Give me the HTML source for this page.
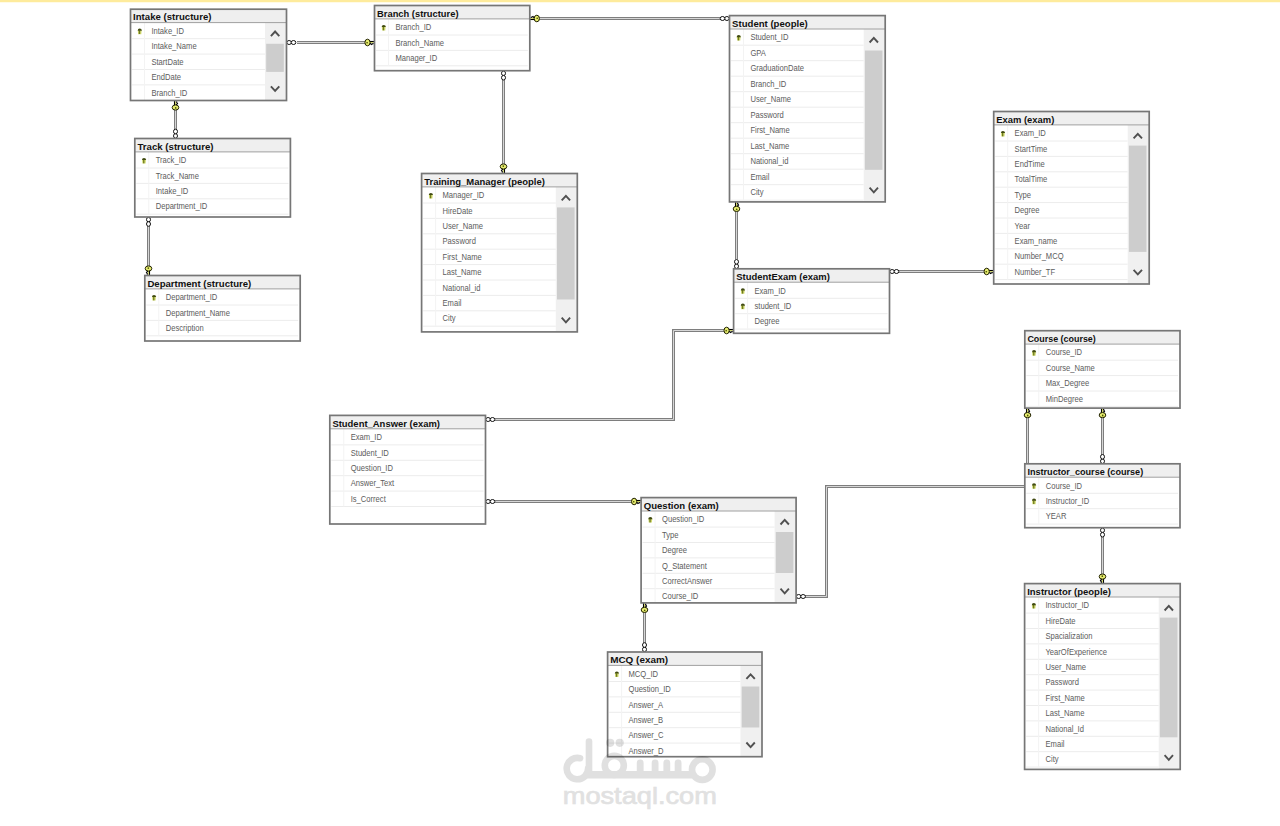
<!DOCTYPE html><html><head><meta charset="utf-8"><style>
html,body{margin:0;padding:0;background:#fff;width:1280px;height:826px;overflow:hidden}
svg{display:block}
text{font-family:"Liberation Sans",sans-serif}
.r{font-size:8.6px;fill:#5c5c5c}
.h{font-size:9.6px;font-weight:bold;fill:#111}
.wm{font-size:24.5px;fill:#e1e1e1;stroke:#e1e1e1;stroke-width:0.7px}
</style></head><body>
<svg width="1280" height="826" viewBox="0 0 1280 826">
<rect x="0" y="0" width="1280" height="826" fill="#ffffff"/>
<rect x="0" y="0" width="1280" height="2" fill="#feeb9c"/><rect x="0" y="2" width="1280" height="1" fill="#fffbe6"/>
<path d="M297,42.5 L365,42.5" fill="none" stroke="#7e7e7e" stroke-width="3"/><path d="M297,42.5 L365,42.5" fill="none" stroke="#d6d6d6" stroke-width="1"/><g transform="translate(286.5,42.5) rotate(0)"><ellipse cx="2.6" cy="0" rx="2.3" ry="2.0" fill="#ffffff" stroke="#111111" stroke-width="1"/><ellipse cx="7.0" cy="0" rx="2.3" ry="2.0" fill="#ffffff" stroke="#111111" stroke-width="1"/></g><g transform="translate(374.5,42.5) rotate(0)"><path d="M-5,-0.9 L-0.2,-0.9" stroke="#000" stroke-width="1.3" fill="none"/><path d="M-4.4,0.5 L-3.2,2 L-2,1.3 L-0.8,1" stroke="#000" stroke-width="1.2" fill="none"/><path d="M-5,-0.25 L-1,-0.25 L-1,0.5 L-5,0.5 Z" fill="#d8e050"/><ellipse cx="-7.0" cy="0" rx="2.6" ry="3.3" fill="#e8ee70" stroke="#1e1e00" stroke-width="1"/><ellipse cx="-7.4" cy="0.2" rx="0.9" ry="0.8" fill="#4a5000"/></g>
<path d="M539,18.5 L720,18.5" fill="none" stroke="#7e7e7e" stroke-width="3"/><path d="M539,18.5 L720,18.5" fill="none" stroke="#d6d6d6" stroke-width="1"/><g transform="translate(529.8,18.5) rotate(180)"><path d="M-5,-0.9 L-0.2,-0.9" stroke="#000" stroke-width="1.3" fill="none"/><path d="M-4.4,0.5 L-3.2,2 L-2,1.3 L-0.8,1" stroke="#000" stroke-width="1.2" fill="none"/><path d="M-5,-0.25 L-1,-0.25 L-1,0.5 L-5,0.5 Z" fill="#d8e050"/><ellipse cx="-7.0" cy="0" rx="2.6" ry="3.3" fill="#e8ee70" stroke="#1e1e00" stroke-width="1"/><ellipse cx="-7.4" cy="0.2" rx="0.9" ry="0.8" fill="#4a5000"/></g><g transform="translate(729.5,18.5) rotate(180)"><ellipse cx="2.6" cy="0" rx="2.3" ry="2.0" fill="#ffffff" stroke="#111111" stroke-width="1"/><ellipse cx="7.0" cy="0" rx="2.3" ry="2.0" fill="#ffffff" stroke="#111111" stroke-width="1"/></g>
<path d="M503.5,80 L503.5,164" fill="none" stroke="#7e7e7e" stroke-width="3"/><path d="M503.5,80 L503.5,164" fill="none" stroke="#d6d6d6" stroke-width="1"/><g transform="translate(503.5,70.7) rotate(90)"><ellipse cx="2.6" cy="0" rx="2.3" ry="2.0" fill="#ffffff" stroke="#111111" stroke-width="1"/><ellipse cx="7.0" cy="0" rx="2.3" ry="2.0" fill="#ffffff" stroke="#111111" stroke-width="1"/></g><g transform="translate(503.5,173.5) rotate(90)"><path d="M-5,-0.9 L-0.2,-0.9" stroke="#000" stroke-width="1.3" fill="none"/><path d="M-4.4,0.5 L-3.2,2 L-2,1.3 L-0.8,1" stroke="#000" stroke-width="1.2" fill="none"/><path d="M-5,-0.25 L-1,-0.25 L-1,0.5 L-5,0.5 Z" fill="#d8e050"/><ellipse cx="-7.0" cy="0" rx="2.6" ry="3.3" fill="#e8ee70" stroke="#1e1e00" stroke-width="1"/><ellipse cx="-7.4" cy="0.2" rx="0.9" ry="0.8" fill="#4a5000"/></g>
<path d="M175.5,110 L175.5,129" fill="none" stroke="#7e7e7e" stroke-width="3"/><path d="M175.5,110 L175.5,129" fill="none" stroke="#d6d6d6" stroke-width="1"/><g transform="translate(175.5,100.5) rotate(270)"><path d="M-5,-0.9 L-0.2,-0.9" stroke="#000" stroke-width="1.3" fill="none"/><path d="M-4.4,0.5 L-3.2,2 L-2,1.3 L-0.8,1" stroke="#000" stroke-width="1.2" fill="none"/><path d="M-5,-0.25 L-1,-0.25 L-1,0.5 L-5,0.5 Z" fill="#d8e050"/><ellipse cx="-7.0" cy="0" rx="2.6" ry="3.3" fill="#e8ee70" stroke="#1e1e00" stroke-width="1"/><ellipse cx="-7.4" cy="0.2" rx="0.9" ry="0.8" fill="#4a5000"/></g><g transform="translate(175.5,138.5) rotate(270)"><ellipse cx="2.6" cy="0" rx="2.3" ry="2.0" fill="#ffffff" stroke="#111111" stroke-width="1"/><ellipse cx="7.0" cy="0" rx="2.3" ry="2.0" fill="#ffffff" stroke="#111111" stroke-width="1"/></g>
<path d="M148.5,226 L148.5,266" fill="none" stroke="#7e7e7e" stroke-width="3"/><path d="M148.5,226 L148.5,266" fill="none" stroke="#d6d6d6" stroke-width="1"/><g transform="translate(148.5,217) rotate(90)"><ellipse cx="2.6" cy="0" rx="2.3" ry="2.0" fill="#ffffff" stroke="#111111" stroke-width="1"/><ellipse cx="7.0" cy="0" rx="2.3" ry="2.0" fill="#ffffff" stroke="#111111" stroke-width="1"/></g><g transform="translate(148.5,275.5) rotate(90)"><path d="M-5,-0.9 L-0.2,-0.9" stroke="#000" stroke-width="1.3" fill="none"/><path d="M-4.4,0.5 L-3.2,2 L-2,1.3 L-0.8,1" stroke="#000" stroke-width="1.2" fill="none"/><path d="M-5,-0.25 L-1,-0.25 L-1,0.5 L-5,0.5 Z" fill="#d8e050"/><ellipse cx="-7.0" cy="0" rx="2.6" ry="3.3" fill="#e8ee70" stroke="#1e1e00" stroke-width="1"/><ellipse cx="-7.4" cy="0.2" rx="0.9" ry="0.8" fill="#4a5000"/></g>
<path d="M736.5,211 L736.5,259" fill="none" stroke="#7e7e7e" stroke-width="3"/><path d="M736.5,211 L736.5,259" fill="none" stroke="#d6d6d6" stroke-width="1"/><g transform="translate(736.5,201.9) rotate(270)"><path d="M-5,-0.9 L-0.2,-0.9" stroke="#000" stroke-width="1.3" fill="none"/><path d="M-4.4,0.5 L-3.2,2 L-2,1.3 L-0.8,1" stroke="#000" stroke-width="1.2" fill="none"/><path d="M-5,-0.25 L-1,-0.25 L-1,0.5 L-5,0.5 Z" fill="#d8e050"/><ellipse cx="-7.0" cy="0" rx="2.6" ry="3.3" fill="#e8ee70" stroke="#1e1e00" stroke-width="1"/><ellipse cx="-7.4" cy="0.2" rx="0.9" ry="0.8" fill="#4a5000"/></g><g transform="translate(736.5,268.8) rotate(270)"><ellipse cx="2.6" cy="0" rx="2.3" ry="2.0" fill="#ffffff" stroke="#111111" stroke-width="1"/><ellipse cx="7.0" cy="0" rx="2.3" ry="2.0" fill="#ffffff" stroke="#111111" stroke-width="1"/></g>
<path d="M898,271.5 L984,271.5" fill="none" stroke="#7e7e7e" stroke-width="3"/><path d="M898,271.5 L984,271.5" fill="none" stroke="#d6d6d6" stroke-width="1"/><g transform="translate(889.5,271.5) rotate(0)"><ellipse cx="2.6" cy="0" rx="2.3" ry="2.0" fill="#ffffff" stroke="#111111" stroke-width="1"/><ellipse cx="7.0" cy="0" rx="2.3" ry="2.0" fill="#ffffff" stroke="#111111" stroke-width="1"/></g><g transform="translate(993.7,271.5) rotate(0)"><path d="M-5,-0.9 L-0.2,-0.9" stroke="#000" stroke-width="1.3" fill="none"/><path d="M-4.4,0.5 L-3.2,2 L-2,1.3 L-0.8,1" stroke="#000" stroke-width="1.2" fill="none"/><path d="M-5,-0.25 L-1,-0.25 L-1,0.5 L-5,0.5 Z" fill="#d8e050"/><ellipse cx="-7.0" cy="0" rx="2.6" ry="3.3" fill="#e8ee70" stroke="#1e1e00" stroke-width="1"/><ellipse cx="-7.4" cy="0.2" rx="0.9" ry="0.8" fill="#4a5000"/></g>
<path d="M724,330.5 L673.5,330.5 L673.5,419.5 L495,419.5" fill="none" stroke="#7e7e7e" stroke-width="3"/><path d="M724,330.5 L673.5,330.5 L673.5,419.5 L495,419.5" fill="none" stroke="#d6d6d6" stroke-width="1"/><g transform="translate(733.6,330.5) rotate(0)"><path d="M-5,-0.9 L-0.2,-0.9" stroke="#000" stroke-width="1.3" fill="none"/><path d="M-4.4,0.5 L-3.2,2 L-2,1.3 L-0.8,1" stroke="#000" stroke-width="1.2" fill="none"/><path d="M-5,-0.25 L-1,-0.25 L-1,0.5 L-5,0.5 Z" fill="#d8e050"/><ellipse cx="-7.0" cy="0" rx="2.6" ry="3.3" fill="#e8ee70" stroke="#1e1e00" stroke-width="1"/><ellipse cx="-7.4" cy="0.2" rx="0.9" ry="0.8" fill="#4a5000"/></g><g transform="translate(485.5,419.5) rotate(0)"><ellipse cx="2.6" cy="0" rx="2.3" ry="2.0" fill="#ffffff" stroke="#111111" stroke-width="1"/><ellipse cx="7.0" cy="0" rx="2.3" ry="2.0" fill="#ffffff" stroke="#111111" stroke-width="1"/></g>
<path d="M495,501.5 L632,501.5" fill="none" stroke="#7e7e7e" stroke-width="3"/><path d="M495,501.5 L632,501.5" fill="none" stroke="#d6d6d6" stroke-width="1"/><g transform="translate(485.5,501.5) rotate(0)"><ellipse cx="2.6" cy="0" rx="2.3" ry="2.0" fill="#ffffff" stroke="#111111" stroke-width="1"/><ellipse cx="7.0" cy="0" rx="2.3" ry="2.0" fill="#ffffff" stroke="#111111" stroke-width="1"/></g><g transform="translate(641.1,501.5) rotate(0)"><path d="M-5,-0.9 L-0.2,-0.9" stroke="#000" stroke-width="1.3" fill="none"/><path d="M-4.4,0.5 L-3.2,2 L-2,1.3 L-0.8,1" stroke="#000" stroke-width="1.2" fill="none"/><path d="M-5,-0.25 L-1,-0.25 L-1,0.5 L-5,0.5 Z" fill="#d8e050"/><ellipse cx="-7.0" cy="0" rx="2.6" ry="3.3" fill="#e8ee70" stroke="#1e1e00" stroke-width="1"/><ellipse cx="-7.4" cy="0.2" rx="0.9" ry="0.8" fill="#4a5000"/></g>
<path d="M805,596.5 L826.5,596.5 L826.5,486.5 L1026,486.5" fill="none" stroke="#7e7e7e" stroke-width="3"/><path d="M805,596.5 L826.5,596.5 L826.5,486.5 L1026,486.5" fill="none" stroke="#d6d6d6" stroke-width="1"/><path d="M1027.5,418 L1027.5,464" fill="none" stroke="#7e7e7e" stroke-width="3"/><path d="M1027.5,418 L1027.5,464" fill="none" stroke="#d6d6d6" stroke-width="1"/><g transform="translate(796.1,596.5) rotate(0)"><ellipse cx="2.6" cy="0" rx="2.3" ry="2.0" fill="#ffffff" stroke="#111111" stroke-width="1"/><ellipse cx="7.0" cy="0" rx="2.3" ry="2.0" fill="#ffffff" stroke="#111111" stroke-width="1"/></g><g transform="translate(1027.5,408.1) rotate(270)"><path d="M-5,-0.9 L-0.2,-0.9" stroke="#000" stroke-width="1.3" fill="none"/><path d="M-4.4,0.5 L-3.2,2 L-2,1.3 L-0.8,1" stroke="#000" stroke-width="1.2" fill="none"/><path d="M-5,-0.25 L-1,-0.25 L-1,0.5 L-5,0.5 Z" fill="#d8e050"/><ellipse cx="-7.0" cy="0" rx="2.6" ry="3.3" fill="#e8ee70" stroke="#1e1e00" stroke-width="1"/><ellipse cx="-7.4" cy="0.2" rx="0.9" ry="0.8" fill="#4a5000"/></g>
<path d="M1102.5,417 L1102.5,455" fill="none" stroke="#7e7e7e" stroke-width="3"/><path d="M1102.5,417 L1102.5,455" fill="none" stroke="#d6d6d6" stroke-width="1"/><g transform="translate(1102.5,408.1) rotate(270)"><path d="M-5,-0.9 L-0.2,-0.9" stroke="#000" stroke-width="1.3" fill="none"/><path d="M-4.4,0.5 L-3.2,2 L-2,1.3 L-0.8,1" stroke="#000" stroke-width="1.2" fill="none"/><path d="M-5,-0.25 L-1,-0.25 L-1,0.5 L-5,0.5 Z" fill="#d8e050"/><ellipse cx="-7.0" cy="0" rx="2.6" ry="3.3" fill="#e8ee70" stroke="#1e1e00" stroke-width="1"/><ellipse cx="-7.4" cy="0.2" rx="0.9" ry="0.8" fill="#4a5000"/></g><g transform="translate(1102.5,463.8) rotate(270)"><ellipse cx="2.6" cy="0" rx="2.3" ry="2.0" fill="#ffffff" stroke="#111111" stroke-width="1"/><ellipse cx="7.0" cy="0" rx="2.3" ry="2.0" fill="#ffffff" stroke="#111111" stroke-width="1"/></g>
<path d="M1102.5,537 L1102.5,574" fill="none" stroke="#7e7e7e" stroke-width="3"/><path d="M1102.5,537 L1102.5,574" fill="none" stroke="#d6d6d6" stroke-width="1"/><g transform="translate(1102.5,527.7) rotate(90)"><ellipse cx="2.6" cy="0" rx="2.3" ry="2.0" fill="#ffffff" stroke="#111111" stroke-width="1"/><ellipse cx="7.0" cy="0" rx="2.3" ry="2.0" fill="#ffffff" stroke="#111111" stroke-width="1"/></g><g transform="translate(1102.5,583.6) rotate(90)"><path d="M-5,-0.9 L-0.2,-0.9" stroke="#000" stroke-width="1.3" fill="none"/><path d="M-4.4,0.5 L-3.2,2 L-2,1.3 L-0.8,1" stroke="#000" stroke-width="1.2" fill="none"/><path d="M-5,-0.25 L-1,-0.25 L-1,0.5 L-5,0.5 Z" fill="#d8e050"/><ellipse cx="-7.0" cy="0" rx="2.6" ry="3.3" fill="#e8ee70" stroke="#1e1e00" stroke-width="1"/><ellipse cx="-7.4" cy="0.2" rx="0.9" ry="0.8" fill="#4a5000"/></g>
<path d="M644.5,612 L644.5,643" fill="none" stroke="#7e7e7e" stroke-width="3"/><path d="M644.5,612 L644.5,643" fill="none" stroke="#d6d6d6" stroke-width="1"/><g transform="translate(644.5,602.9) rotate(270)"><path d="M-5,-0.9 L-0.2,-0.9" stroke="#000" stroke-width="1.3" fill="none"/><path d="M-4.4,0.5 L-3.2,2 L-2,1.3 L-0.8,1" stroke="#000" stroke-width="1.2" fill="none"/><path d="M-5,-0.25 L-1,-0.25 L-1,0.5 L-5,0.5 Z" fill="#d8e050"/><ellipse cx="-7.0" cy="0" rx="2.6" ry="3.3" fill="#e8ee70" stroke="#1e1e00" stroke-width="1"/><ellipse cx="-7.4" cy="0.2" rx="0.9" ry="0.8" fill="#4a5000"/></g><g transform="translate(644.5,652) rotate(270)"><ellipse cx="2.6" cy="0" rx="2.3" ry="2.0" fill="#ffffff" stroke="#111111" stroke-width="1"/><ellipse cx="7.0" cy="0" rx="2.3" ry="2.0" fill="#ffffff" stroke="#111111" stroke-width="1"/></g>
<rect x="130.5" y="9.2" width="156" height="91.3" fill="#ffffff"/>
<rect x="130.5" y="9.2" width="156" height="13.4" fill="#efefef"/>
<line x1="132" y1="38.7" x2="265" y2="38.7" stroke="#ececec" stroke-width="1"/>
<line x1="132" y1="54.1" x2="265" y2="54.1" stroke="#ececec" stroke-width="1"/>
<line x1="132" y1="69.5" x2="265" y2="69.5" stroke="#ececec" stroke-width="1"/>
<line x1="132" y1="84.9" x2="265" y2="84.9" stroke="#ececec" stroke-width="1"/>
<line x1="144.5" y1="22.6" x2="144.5" y2="100.3" stroke="#f3f3f3" stroke-width="1"/>
<text transform="translate(151.4,33.95) scale(0.885,1)" class="r">Intake_ID</text>
<g transform="translate(139.7,31.4)"><path d="M-1.9,-1.2 L1.9,-1.2 L1.6,2.8 L-1.6,2.8 Z" fill="#d2da70"/><rect x="-0.9" y="-0.8" width="1.3" height="3.4" fill="#6e7a20"/><path d="M-2,-0.6 Q-2,-2.8 0,-2.8 Q2,-2.8 2.2,-0.6 Z" fill="#404a10"/></g>
<text transform="translate(151.4,49.35) scale(0.885,1)" class="r">Intake_Name</text>
<text transform="translate(151.4,64.75) scale(0.885,1)" class="r">StartDate</text>
<text transform="translate(151.4,80.15) scale(0.885,1)" class="r">EndDate</text>
<text transform="translate(151.4,95.55) scale(0.885,1)" class="r">Branch_ID</text>
<rect x="265" y="22.6" width="21.5" height="77.9" fill="#f0f0f0"/>
<rect x="266.2" y="43.75" width="17.6" height="28.15" fill="#cdcdcd"/>
<path d="M270.9,36.1 L275.1,31.5 L279.3,36.1" fill="none" stroke="#505050" stroke-width="1.9"/>
<path d="M270.9,86.3 L275.1,90.9 L279.3,86.3" fill="none" stroke="#505050" stroke-width="1.9"/>
<line x1="130.5" y1="22.6" x2="286.5" y2="22.6" stroke="#a0a0a0" stroke-width="1"/>
<text x="133.1" y="20.3" class="h" textLength="78.4" lengthAdjust="spacingAndGlyphs">Intake (structure)</text>
<rect x="130.5" y="9.2" width="156" height="91.3" fill="none" stroke="#767676" stroke-width="1.7"/>
<rect x="374.5" y="5.5" width="155.3" height="65.2" fill="#ffffff"/>
<rect x="374.5" y="5.5" width="155.3" height="13.4" fill="#efefef"/>
<line x1="376" y1="35" x2="527.8" y2="35" stroke="#ececec" stroke-width="1"/>
<line x1="376" y1="50.4" x2="527.8" y2="50.4" stroke="#ececec" stroke-width="1"/>
<line x1="376" y1="65.8" x2="527.8" y2="65.8" stroke="#ececec" stroke-width="1"/>
<line x1="388.5" y1="18.9" x2="388.5" y2="65.8" stroke="#f3f3f3" stroke-width="1"/>
<text transform="translate(395.4,30.25) scale(0.885,1)" class="r">Branch_ID</text>
<g transform="translate(383.7,27.7)"><path d="M-1.9,-1.2 L1.9,-1.2 L1.6,2.8 L-1.6,2.8 Z" fill="#d2da70"/><rect x="-0.9" y="-0.8" width="1.3" height="3.4" fill="#6e7a20"/><path d="M-2,-0.6 Q-2,-2.8 0,-2.8 Q2,-2.8 2.2,-0.6 Z" fill="#404a10"/></g>
<text transform="translate(395.4,45.65) scale(0.885,1)" class="r">Branch_Name</text>
<text transform="translate(395.4,61.05) scale(0.885,1)" class="r">Manager_ID</text>
<line x1="374.5" y1="18.9" x2="529.8" y2="18.9" stroke="#a0a0a0" stroke-width="1"/>
<text x="377.1" y="16.6" class="h" textLength="81.4" lengthAdjust="spacingAndGlyphs">Branch (structure)</text>
<rect x="374.5" y="5.5" width="155.3" height="65.2" fill="none" stroke="#767676" stroke-width="1.7"/>
<rect x="729.5" y="15.6" width="155.7" height="186.3" fill="#ffffff"/>
<rect x="729.5" y="15.6" width="155.7" height="13.4" fill="#efefef"/>
<line x1="731" y1="45.2" x2="863.7" y2="45.2" stroke="#ececec" stroke-width="1"/>
<line x1="731" y1="60.7" x2="863.7" y2="60.7" stroke="#ececec" stroke-width="1"/>
<line x1="731" y1="76.2" x2="863.7" y2="76.2" stroke="#ececec" stroke-width="1"/>
<line x1="731" y1="91.7" x2="863.7" y2="91.7" stroke="#ececec" stroke-width="1"/>
<line x1="731" y1="107.2" x2="863.7" y2="107.2" stroke="#ececec" stroke-width="1"/>
<line x1="731" y1="122.7" x2="863.7" y2="122.7" stroke="#ececec" stroke-width="1"/>
<line x1="731" y1="138.2" x2="863.7" y2="138.2" stroke="#ececec" stroke-width="1"/>
<line x1="731" y1="153.7" x2="863.7" y2="153.7" stroke="#ececec" stroke-width="1"/>
<line x1="731" y1="169.2" x2="863.7" y2="169.2" stroke="#ececec" stroke-width="1"/>
<line x1="731" y1="184.7" x2="863.7" y2="184.7" stroke="#ececec" stroke-width="1"/>
<line x1="731" y1="200.2" x2="863.7" y2="200.2" stroke="#ececec" stroke-width="1"/>
<line x1="743.5" y1="29" x2="743.5" y2="200.2" stroke="#f3f3f3" stroke-width="1"/>
<text transform="translate(750.4,40.35) scale(0.885,1)" class="r">Student_ID</text>
<g transform="translate(738.7,37.8)"><path d="M-1.9,-1.2 L1.9,-1.2 L1.6,2.8 L-1.6,2.8 Z" fill="#d2da70"/><rect x="-0.9" y="-0.8" width="1.3" height="3.4" fill="#6e7a20"/><path d="M-2,-0.6 Q-2,-2.8 0,-2.8 Q2,-2.8 2.2,-0.6 Z" fill="#404a10"/></g>
<text transform="translate(750.4,55.85) scale(0.885,1)" class="r">GPA</text>
<text transform="translate(750.4,71.35) scale(0.885,1)" class="r">GraduationDate</text>
<text transform="translate(750.4,86.85) scale(0.885,1)" class="r">Branch_ID</text>
<text transform="translate(750.4,102.35) scale(0.885,1)" class="r">User_Name</text>
<text transform="translate(750.4,117.85) scale(0.885,1)" class="r">Password</text>
<text transform="translate(750.4,133.35) scale(0.885,1)" class="r">First_Name</text>
<text transform="translate(750.4,148.85) scale(0.885,1)" class="r">Last_Name</text>
<text transform="translate(750.4,164.35) scale(0.885,1)" class="r">National_id</text>
<text transform="translate(750.4,179.85) scale(0.885,1)" class="r">Email</text>
<text transform="translate(750.4,195.35) scale(0.885,1)" class="r">City</text>
<rect x="863.7" y="29" width="21.5" height="172.9" fill="#f0f0f0"/>
<rect x="864.9" y="50.5" width="17.6" height="119.3" fill="#cdcdcd"/>
<path d="M869.6,42.5 L873.8,37.9 L878,42.5" fill="none" stroke="#505050" stroke-width="1.9"/>
<path d="M869.6,187.7 L873.8,192.3 L878,187.7" fill="none" stroke="#505050" stroke-width="1.9"/>
<line x1="729.5" y1="29" x2="885.2" y2="29" stroke="#a0a0a0" stroke-width="1"/>
<text x="732.1" y="26.7" class="h" textLength="75.6" lengthAdjust="spacingAndGlyphs">Student (people)</text>
<rect x="729.5" y="15.6" width="155.7" height="186.3" fill="none" stroke="#767676" stroke-width="1.7"/>
<rect x="993.7" y="111.5" width="155.5" height="172.5" fill="#ffffff"/>
<rect x="993.7" y="111.5" width="155.5" height="13.4" fill="#efefef"/>
<line x1="995.2" y1="141" x2="1127.7" y2="141" stroke="#ececec" stroke-width="1"/>
<line x1="995.2" y1="156.4" x2="1127.7" y2="156.4" stroke="#ececec" stroke-width="1"/>
<line x1="995.2" y1="171.8" x2="1127.7" y2="171.8" stroke="#ececec" stroke-width="1"/>
<line x1="995.2" y1="187.2" x2="1127.7" y2="187.2" stroke="#ececec" stroke-width="1"/>
<line x1="995.2" y1="202.6" x2="1127.7" y2="202.6" stroke="#ececec" stroke-width="1"/>
<line x1="995.2" y1="218" x2="1127.7" y2="218" stroke="#ececec" stroke-width="1"/>
<line x1="995.2" y1="233.4" x2="1127.7" y2="233.4" stroke="#ececec" stroke-width="1"/>
<line x1="995.2" y1="248.8" x2="1127.7" y2="248.8" stroke="#ececec" stroke-width="1"/>
<line x1="995.2" y1="264.2" x2="1127.7" y2="264.2" stroke="#ececec" stroke-width="1"/>
<line x1="995.2" y1="279.6" x2="1127.7" y2="279.6" stroke="#ececec" stroke-width="1"/>
<line x1="1007.7" y1="124.9" x2="1007.7" y2="279.6" stroke="#f3f3f3" stroke-width="1"/>
<text transform="translate(1014.6,136.25) scale(0.885,1)" class="r">Exam_ID</text>
<g transform="translate(1002.9,133.7)"><path d="M-1.9,-1.2 L1.9,-1.2 L1.6,2.8 L-1.6,2.8 Z" fill="#d2da70"/><rect x="-0.9" y="-0.8" width="1.3" height="3.4" fill="#6e7a20"/><path d="M-2,-0.6 Q-2,-2.8 0,-2.8 Q2,-2.8 2.2,-0.6 Z" fill="#404a10"/></g>
<text transform="translate(1014.6,151.65) scale(0.885,1)" class="r">StartTime</text>
<text transform="translate(1014.6,167.05) scale(0.885,1)" class="r">EndTime</text>
<text transform="translate(1014.6,182.45) scale(0.885,1)" class="r">TotalTime</text>
<text transform="translate(1014.6,197.85) scale(0.885,1)" class="r">Type</text>
<text transform="translate(1014.6,213.25) scale(0.885,1)" class="r">Degree</text>
<text transform="translate(1014.6,228.65) scale(0.885,1)" class="r">Year</text>
<text transform="translate(1014.6,244.05) scale(0.885,1)" class="r">Exam_name</text>
<text transform="translate(1014.6,259.45) scale(0.885,1)" class="r">Number_MCQ</text>
<text transform="translate(1014.6,274.85) scale(0.885,1)" class="r">Number_TF</text>
<rect x="1127.7" y="124.9" width="21.5" height="159.1" fill="#f0f0f0"/>
<rect x="1128.9" y="145.6" width="17.6" height="106.3" fill="#cdcdcd"/>
<path d="M1133.6,138.4 L1137.8,133.8 L1142,138.4" fill="none" stroke="#505050" stroke-width="1.9"/>
<path d="M1133.6,269.8 L1137.8,274.4 L1142,269.8" fill="none" stroke="#505050" stroke-width="1.9"/>
<line x1="993.7" y1="124.9" x2="1149.2" y2="124.9" stroke="#a0a0a0" stroke-width="1"/>
<text x="996.3" y="122.6" class="h" textLength="58" lengthAdjust="spacingAndGlyphs">Exam (exam)</text>
<rect x="993.7" y="111.5" width="155.5" height="172.5" fill="none" stroke="#767676" stroke-width="1.7"/>
<rect x="134.8" y="138.5" width="155.6" height="78.5" fill="#ffffff"/>
<rect x="134.8" y="138.5" width="155.6" height="13.4" fill="#efefef"/>
<line x1="136.3" y1="168" x2="288.4" y2="168" stroke="#ececec" stroke-width="1"/>
<line x1="136.3" y1="183.4" x2="288.4" y2="183.4" stroke="#ececec" stroke-width="1"/>
<line x1="136.3" y1="198.8" x2="288.4" y2="198.8" stroke="#ececec" stroke-width="1"/>
<line x1="136.3" y1="214.2" x2="288.4" y2="214.2" stroke="#ececec" stroke-width="1"/>
<line x1="148.8" y1="151.9" x2="148.8" y2="214.2" stroke="#f3f3f3" stroke-width="1"/>
<text transform="translate(155.7,163.25) scale(0.885,1)" class="r">Track_ID</text>
<g transform="translate(144,160.7)"><path d="M-1.9,-1.2 L1.9,-1.2 L1.6,2.8 L-1.6,2.8 Z" fill="#d2da70"/><rect x="-0.9" y="-0.8" width="1.3" height="3.4" fill="#6e7a20"/><path d="M-2,-0.6 Q-2,-2.8 0,-2.8 Q2,-2.8 2.2,-0.6 Z" fill="#404a10"/></g>
<text transform="translate(155.7,178.65) scale(0.885,1)" class="r">Track_Name</text>
<text transform="translate(155.7,194.05) scale(0.885,1)" class="r">Intake_ID</text>
<text transform="translate(155.7,209.45) scale(0.885,1)" class="r">Department_ID</text>
<line x1="134.8" y1="151.9" x2="290.4" y2="151.9" stroke="#a0a0a0" stroke-width="1"/>
<text x="137.4" y="149.6" class="h" textLength="76.2" lengthAdjust="spacingAndGlyphs">Track (structure)</text>
<rect x="134.8" y="138.5" width="155.6" height="78.5" fill="none" stroke="#767676" stroke-width="1.7"/>
<rect x="144.8" y="275.5" width="155.4" height="65.5" fill="#ffffff"/>
<rect x="144.8" y="275.5" width="155.4" height="13.4" fill="#efefef"/>
<line x1="146.3" y1="305" x2="298.2" y2="305" stroke="#ececec" stroke-width="1"/>
<line x1="146.3" y1="320.4" x2="298.2" y2="320.4" stroke="#ececec" stroke-width="1"/>
<line x1="146.3" y1="335.8" x2="298.2" y2="335.8" stroke="#ececec" stroke-width="1"/>
<line x1="158.8" y1="288.9" x2="158.8" y2="335.8" stroke="#f3f3f3" stroke-width="1"/>
<text transform="translate(165.7,300.25) scale(0.885,1)" class="r">Department_ID</text>
<g transform="translate(154,297.7)"><path d="M-1.9,-1.2 L1.9,-1.2 L1.6,2.8 L-1.6,2.8 Z" fill="#d2da70"/><rect x="-0.9" y="-0.8" width="1.3" height="3.4" fill="#6e7a20"/><path d="M-2,-0.6 Q-2,-2.8 0,-2.8 Q2,-2.8 2.2,-0.6 Z" fill="#404a10"/></g>
<text transform="translate(165.7,315.65) scale(0.885,1)" class="r">Department_Name</text>
<text transform="translate(165.7,331.05) scale(0.885,1)" class="r">Description</text>
<line x1="144.8" y1="288.9" x2="300.2" y2="288.9" stroke="#a0a0a0" stroke-width="1"/>
<text x="147.4" y="286.6" class="h" textLength="103.9" lengthAdjust="spacingAndGlyphs">Department (structure)</text>
<rect x="144.8" y="275.5" width="155.4" height="65.5" fill="none" stroke="#767676" stroke-width="1.7"/>
<rect x="421.6" y="173.5" width="155.7" height="158.4" fill="#ffffff"/>
<rect x="421.6" y="173.5" width="155.7" height="13.4" fill="#efefef"/>
<line x1="423.1" y1="203" x2="555.8" y2="203" stroke="#ececec" stroke-width="1"/>
<line x1="423.1" y1="218.4" x2="555.8" y2="218.4" stroke="#ececec" stroke-width="1"/>
<line x1="423.1" y1="233.8" x2="555.8" y2="233.8" stroke="#ececec" stroke-width="1"/>
<line x1="423.1" y1="249.2" x2="555.8" y2="249.2" stroke="#ececec" stroke-width="1"/>
<line x1="423.1" y1="264.6" x2="555.8" y2="264.6" stroke="#ececec" stroke-width="1"/>
<line x1="423.1" y1="280" x2="555.8" y2="280" stroke="#ececec" stroke-width="1"/>
<line x1="423.1" y1="295.4" x2="555.8" y2="295.4" stroke="#ececec" stroke-width="1"/>
<line x1="423.1" y1="310.8" x2="555.8" y2="310.8" stroke="#ececec" stroke-width="1"/>
<line x1="423.1" y1="326.2" x2="555.8" y2="326.2" stroke="#ececec" stroke-width="1"/>
<line x1="435.6" y1="186.9" x2="435.6" y2="326.2" stroke="#f3f3f3" stroke-width="1"/>
<text transform="translate(442.5,198.25) scale(0.885,1)" class="r">Manager_ID</text>
<g transform="translate(430.8,195.7)"><path d="M-1.9,-1.2 L1.9,-1.2 L1.6,2.8 L-1.6,2.8 Z" fill="#d2da70"/><rect x="-0.9" y="-0.8" width="1.3" height="3.4" fill="#6e7a20"/><path d="M-2,-0.6 Q-2,-2.8 0,-2.8 Q2,-2.8 2.2,-0.6 Z" fill="#404a10"/></g>
<text transform="translate(442.5,213.65) scale(0.885,1)" class="r">HireDate</text>
<text transform="translate(442.5,229.05) scale(0.885,1)" class="r">User_Name</text>
<text transform="translate(442.5,244.45) scale(0.885,1)" class="r">Password</text>
<text transform="translate(442.5,259.85) scale(0.885,1)" class="r">First_Name</text>
<text transform="translate(442.5,275.25) scale(0.885,1)" class="r">Last_Name</text>
<text transform="translate(442.5,290.65) scale(0.885,1)" class="r">National_id</text>
<text transform="translate(442.5,306.05) scale(0.885,1)" class="r">Email</text>
<text transform="translate(442.5,321.45) scale(0.885,1)" class="r">City</text>
<rect x="555.8" y="186.9" width="21.5" height="145" fill="#f0f0f0"/>
<rect x="557" y="207.4" width="17.6" height="92.1" fill="#cdcdcd"/>
<path d="M561.7,200.4 L565.9,195.8 L570.1,200.4" fill="none" stroke="#505050" stroke-width="1.9"/>
<path d="M561.7,317.7 L565.9,322.3 L570.1,317.7" fill="none" stroke="#505050" stroke-width="1.9"/>
<line x1="421.6" y1="186.9" x2="577.3" y2="186.9" stroke="#a0a0a0" stroke-width="1"/>
<text x="424.2" y="184.6" class="h" textLength="120.7" lengthAdjust="spacingAndGlyphs">Training_Manager (people)</text>
<rect x="421.6" y="173.5" width="155.7" height="158.4" fill="none" stroke="#767676" stroke-width="1.7"/>
<rect x="733.6" y="268.8" width="155.9" height="64.5" fill="#ffffff"/>
<rect x="733.6" y="268.8" width="155.9" height="13.4" fill="#efefef"/>
<line x1="735.1" y1="298.3" x2="887.5" y2="298.3" stroke="#ececec" stroke-width="1"/>
<line x1="735.1" y1="313.7" x2="887.5" y2="313.7" stroke="#ececec" stroke-width="1"/>
<line x1="735.1" y1="329.1" x2="887.5" y2="329.1" stroke="#ececec" stroke-width="1"/>
<line x1="747.6" y1="282.2" x2="747.6" y2="329.1" stroke="#f3f3f3" stroke-width="1"/>
<text transform="translate(754.5,293.55) scale(0.885,1)" class="r">Exam_ID</text>
<g transform="translate(742.8,291)"><path d="M-1.9,-1.2 L1.9,-1.2 L1.6,2.8 L-1.6,2.8 Z" fill="#d2da70"/><rect x="-0.9" y="-0.8" width="1.3" height="3.4" fill="#6e7a20"/><path d="M-2,-0.6 Q-2,-2.8 0,-2.8 Q2,-2.8 2.2,-0.6 Z" fill="#404a10"/></g>
<text transform="translate(754.5,308.95) scale(0.885,1)" class="r">student_ID</text>
<g transform="translate(742.8,306.4)"><path d="M-1.9,-1.2 L1.9,-1.2 L1.6,2.8 L-1.6,2.8 Z" fill="#d2da70"/><rect x="-0.9" y="-0.8" width="1.3" height="3.4" fill="#6e7a20"/><path d="M-2,-0.6 Q-2,-2.8 0,-2.8 Q2,-2.8 2.2,-0.6 Z" fill="#404a10"/></g>
<text transform="translate(754.5,324.35) scale(0.885,1)" class="r">Degree</text>
<line x1="733.6" y1="282.2" x2="889.5" y2="282.2" stroke="#a0a0a0" stroke-width="1"/>
<text x="736.2" y="279.9" class="h" textLength="93.6" lengthAdjust="spacingAndGlyphs">StudentExam (exam)</text>
<rect x="733.6" y="268.8" width="155.9" height="64.5" fill="none" stroke="#767676" stroke-width="1.7"/>
<rect x="1024.8" y="330.7" width="155.2" height="77.4" fill="#ffffff"/>
<rect x="1024.8" y="330.7" width="155.2" height="13.4" fill="#efefef"/>
<line x1="1026.3" y1="360.2" x2="1178" y2="360.2" stroke="#ececec" stroke-width="1"/>
<line x1="1026.3" y1="375.6" x2="1178" y2="375.6" stroke="#ececec" stroke-width="1"/>
<line x1="1026.3" y1="391" x2="1178" y2="391" stroke="#ececec" stroke-width="1"/>
<line x1="1026.3" y1="406.4" x2="1178" y2="406.4" stroke="#ececec" stroke-width="1"/>
<line x1="1038.8" y1="344.1" x2="1038.8" y2="406.4" stroke="#f3f3f3" stroke-width="1"/>
<text transform="translate(1045.7,355.45) scale(0.885,1)" class="r">Course_ID</text>
<g transform="translate(1034,352.9)"><path d="M-1.9,-1.2 L1.9,-1.2 L1.6,2.8 L-1.6,2.8 Z" fill="#d2da70"/><rect x="-0.9" y="-0.8" width="1.3" height="3.4" fill="#6e7a20"/><path d="M-2,-0.6 Q-2,-2.8 0,-2.8 Q2,-2.8 2.2,-0.6 Z" fill="#404a10"/></g>
<text transform="translate(1045.7,370.85) scale(0.885,1)" class="r">Course_Name</text>
<text transform="translate(1045.7,386.25) scale(0.885,1)" class="r">Max_Degree</text>
<text transform="translate(1045.7,401.65) scale(0.885,1)" class="r">MinDegree</text>
<line x1="1024.8" y1="344.1" x2="1180" y2="344.1" stroke="#a0a0a0" stroke-width="1"/>
<text x="1027.4" y="341.8" class="h" textLength="68.4" lengthAdjust="spacingAndGlyphs">Course (course)</text>
<rect x="1024.8" y="330.7" width="155.2" height="77.4" fill="none" stroke="#767676" stroke-width="1.7"/>
<rect x="329.8" y="415.4" width="155.7" height="108.6" fill="#ffffff"/>
<rect x="329.8" y="415.4" width="155.7" height="13.4" fill="#efefef"/>
<line x1="331.3" y1="444.9" x2="483.5" y2="444.9" stroke="#ececec" stroke-width="1"/>
<line x1="331.3" y1="460.3" x2="483.5" y2="460.3" stroke="#ececec" stroke-width="1"/>
<line x1="331.3" y1="475.7" x2="483.5" y2="475.7" stroke="#ececec" stroke-width="1"/>
<line x1="331.3" y1="491.1" x2="483.5" y2="491.1" stroke="#ececec" stroke-width="1"/>
<line x1="331.3" y1="506.5" x2="483.5" y2="506.5" stroke="#ececec" stroke-width="1"/>
<line x1="343.8" y1="428.8" x2="343.8" y2="506.5" stroke="#f3f3f3" stroke-width="1"/>
<text transform="translate(350.7,440.15) scale(0.885,1)" class="r">Exam_ID</text>
<text transform="translate(350.7,455.55) scale(0.885,1)" class="r">Student_ID</text>
<text transform="translate(350.7,470.95) scale(0.885,1)" class="r">Question_ID</text>
<text transform="translate(350.7,486.35) scale(0.885,1)" class="r">Answer_Text</text>
<text transform="translate(350.7,501.75) scale(0.885,1)" class="r">Is_Correct</text>
<line x1="329.8" y1="428.8" x2="485.5" y2="428.8" stroke="#a0a0a0" stroke-width="1"/>
<text x="332.4" y="426.5" class="h" textLength="107.6" lengthAdjust="spacingAndGlyphs">Student_Answer (exam)</text>
<rect x="329.8" y="415.4" width="155.7" height="108.6" fill="none" stroke="#767676" stroke-width="1.7"/>
<rect x="1024.8" y="463.8" width="155.2" height="63.9" fill="#ffffff"/>
<rect x="1024.8" y="463.8" width="155.2" height="13.4" fill="#efefef"/>
<line x1="1026.3" y1="493.3" x2="1178" y2="493.3" stroke="#ececec" stroke-width="1"/>
<line x1="1026.3" y1="508.7" x2="1178" y2="508.7" stroke="#ececec" stroke-width="1"/>
<line x1="1026.3" y1="524.1" x2="1178" y2="524.1" stroke="#ececec" stroke-width="1"/>
<line x1="1038.8" y1="477.2" x2="1038.8" y2="524.1" stroke="#f3f3f3" stroke-width="1"/>
<text transform="translate(1045.7,488.55) scale(0.885,1)" class="r">Course_ID</text>
<g transform="translate(1034,486)"><path d="M-1.9,-1.2 L1.9,-1.2 L1.6,2.8 L-1.6,2.8 Z" fill="#d2da70"/><rect x="-0.9" y="-0.8" width="1.3" height="3.4" fill="#6e7a20"/><path d="M-2,-0.6 Q-2,-2.8 0,-2.8 Q2,-2.8 2.2,-0.6 Z" fill="#404a10"/></g>
<text transform="translate(1045.7,503.95) scale(0.885,1)" class="r">Instructor_ID</text>
<g transform="translate(1034,501.4)"><path d="M-1.9,-1.2 L1.9,-1.2 L1.6,2.8 L-1.6,2.8 Z" fill="#d2da70"/><rect x="-0.9" y="-0.8" width="1.3" height="3.4" fill="#6e7a20"/><path d="M-2,-0.6 Q-2,-2.8 0,-2.8 Q2,-2.8 2.2,-0.6 Z" fill="#404a10"/></g>
<text transform="translate(1045.7,519.35) scale(0.885,1)" class="r">YEAR</text>
<line x1="1024.8" y1="477.2" x2="1180" y2="477.2" stroke="#a0a0a0" stroke-width="1"/>
<text x="1027.4" y="474.9" class="h" textLength="115.8" lengthAdjust="spacingAndGlyphs">Instructor_course (course)</text>
<rect x="1024.8" y="463.8" width="155.2" height="63.9" fill="none" stroke="#767676" stroke-width="1.7"/>
<rect x="641.1" y="497.6" width="155" height="105.3" fill="#ffffff"/>
<rect x="641.1" y="497.6" width="155" height="13.4" fill="#efefef"/>
<line x1="642.6" y1="527.1" x2="774.6" y2="527.1" stroke="#ececec" stroke-width="1"/>
<line x1="642.6" y1="542.5" x2="774.6" y2="542.5" stroke="#ececec" stroke-width="1"/>
<line x1="642.6" y1="557.9" x2="774.6" y2="557.9" stroke="#ececec" stroke-width="1"/>
<line x1="642.6" y1="573.3" x2="774.6" y2="573.3" stroke="#ececec" stroke-width="1"/>
<line x1="642.6" y1="588.7" x2="774.6" y2="588.7" stroke="#ececec" stroke-width="1"/>
<line x1="655.1" y1="511" x2="655.1" y2="602.9" stroke="#f3f3f3" stroke-width="1"/>
<text transform="translate(662,522.35) scale(0.885,1)" class="r">Question_ID</text>
<g transform="translate(650.3,519.8)"><path d="M-1.9,-1.2 L1.9,-1.2 L1.6,2.8 L-1.6,2.8 Z" fill="#d2da70"/><rect x="-0.9" y="-0.8" width="1.3" height="3.4" fill="#6e7a20"/><path d="M-2,-0.6 Q-2,-2.8 0,-2.8 Q2,-2.8 2.2,-0.6 Z" fill="#404a10"/></g>
<text transform="translate(662,537.75) scale(0.885,1)" class="r">Type</text>
<text transform="translate(662,553.15) scale(0.885,1)" class="r">Degree</text>
<text transform="translate(662,568.55) scale(0.885,1)" class="r">Q_Statement</text>
<text transform="translate(662,583.95) scale(0.885,1)" class="r">CorrectAnswer</text>
<text transform="translate(662,599.35) scale(0.885,1)" class="r">Course_ID</text>
<rect x="774.6" y="511" width="21.5" height="91.9" fill="#f0f0f0"/>
<rect x="775.8" y="532" width="17.6" height="41" fill="#cdcdcd"/>
<path d="M780.5,524.5 L784.7,519.9 L788.9,524.5" fill="none" stroke="#505050" stroke-width="1.9"/>
<path d="M780.5,588.7 L784.7,593.3 L788.9,588.7" fill="none" stroke="#505050" stroke-width="1.9"/>
<line x1="641.1" y1="511" x2="796.1" y2="511" stroke="#a0a0a0" stroke-width="1"/>
<text x="643.7" y="508.7" class="h" textLength="75.1" lengthAdjust="spacingAndGlyphs">Question (exam)</text>
<rect x="641.1" y="497.6" width="155" height="105.3" fill="none" stroke="#767676" stroke-width="1.7"/>
<rect x="607.6" y="652" width="154.4" height="104.7" fill="#ffffff"/>
<rect x="607.6" y="652" width="154.4" height="13.4" fill="#efefef"/>
<line x1="609.1" y1="681.5" x2="740.5" y2="681.5" stroke="#ececec" stroke-width="1"/>
<line x1="609.1" y1="696.9" x2="740.5" y2="696.9" stroke="#ececec" stroke-width="1"/>
<line x1="609.1" y1="712.3" x2="740.5" y2="712.3" stroke="#ececec" stroke-width="1"/>
<line x1="609.1" y1="727.7" x2="740.5" y2="727.7" stroke="#ececec" stroke-width="1"/>
<line x1="609.1" y1="743.1" x2="740.5" y2="743.1" stroke="#ececec" stroke-width="1"/>
<line x1="621.6" y1="665.4" x2="621.6" y2="756.7" stroke="#f3f3f3" stroke-width="1"/>
<text transform="translate(628.5,676.75) scale(0.885,1)" class="r">MCQ_ID</text>
<g transform="translate(616.8,674.2)"><path d="M-1.9,-1.2 L1.9,-1.2 L1.6,2.8 L-1.6,2.8 Z" fill="#d2da70"/><rect x="-0.9" y="-0.8" width="1.3" height="3.4" fill="#6e7a20"/><path d="M-2,-0.6 Q-2,-2.8 0,-2.8 Q2,-2.8 2.2,-0.6 Z" fill="#404a10"/></g>
<text transform="translate(628.5,692.15) scale(0.885,1)" class="r">Question_ID</text>
<text transform="translate(628.5,707.55) scale(0.885,1)" class="r">Answer_A</text>
<text transform="translate(628.5,722.95) scale(0.885,1)" class="r">Answer_B</text>
<text transform="translate(628.5,738.35) scale(0.885,1)" class="r">Answer_C</text>
<text transform="translate(628.5,753.75) scale(0.885,1)" class="r">Answer_D</text>
<rect x="740.5" y="665.4" width="21.5" height="91.3" fill="#f0f0f0"/>
<rect x="741.7" y="686.5" width="17.6" height="41" fill="#cdcdcd"/>
<path d="M746.4,678.9 L750.6,674.3 L754.8,678.9" fill="none" stroke="#505050" stroke-width="1.9"/>
<path d="M746.4,742.5 L750.6,747.1 L754.8,742.5" fill="none" stroke="#505050" stroke-width="1.9"/>
<line x1="607.6" y1="665.4" x2="762" y2="665.4" stroke="#a0a0a0" stroke-width="1"/>
<text x="610.2" y="663.1" class="h" textLength="57.9" lengthAdjust="spacingAndGlyphs">MCQ (exam)</text>
<rect x="607.6" y="652" width="154.4" height="104.7" fill="none" stroke="#767676" stroke-width="1.7"/>
<rect x="1024.6" y="583.6" width="155.6" height="185.8" fill="#ffffff"/>
<rect x="1024.6" y="583.6" width="155.6" height="13.4" fill="#efefef"/>
<line x1="1026.1" y1="613.1" x2="1158.7" y2="613.1" stroke="#ececec" stroke-width="1"/>
<line x1="1026.1" y1="628.5" x2="1158.7" y2="628.5" stroke="#ececec" stroke-width="1"/>
<line x1="1026.1" y1="643.9" x2="1158.7" y2="643.9" stroke="#ececec" stroke-width="1"/>
<line x1="1026.1" y1="659.3" x2="1158.7" y2="659.3" stroke="#ececec" stroke-width="1"/>
<line x1="1026.1" y1="674.7" x2="1158.7" y2="674.7" stroke="#ececec" stroke-width="1"/>
<line x1="1026.1" y1="690.1" x2="1158.7" y2="690.1" stroke="#ececec" stroke-width="1"/>
<line x1="1026.1" y1="705.5" x2="1158.7" y2="705.5" stroke="#ececec" stroke-width="1"/>
<line x1="1026.1" y1="720.9" x2="1158.7" y2="720.9" stroke="#ececec" stroke-width="1"/>
<line x1="1026.1" y1="736.3" x2="1158.7" y2="736.3" stroke="#ececec" stroke-width="1"/>
<line x1="1026.1" y1="751.7" x2="1158.7" y2="751.7" stroke="#ececec" stroke-width="1"/>
<line x1="1026.1" y1="767.1" x2="1158.7" y2="767.1" stroke="#ececec" stroke-width="1"/>
<line x1="1038.6" y1="597" x2="1038.6" y2="767.1" stroke="#f3f3f3" stroke-width="1"/>
<text transform="translate(1045.5,608.35) scale(0.885,1)" class="r">Instructor_ID</text>
<g transform="translate(1033.8,605.8)"><path d="M-1.9,-1.2 L1.9,-1.2 L1.6,2.8 L-1.6,2.8 Z" fill="#d2da70"/><rect x="-0.9" y="-0.8" width="1.3" height="3.4" fill="#6e7a20"/><path d="M-2,-0.6 Q-2,-2.8 0,-2.8 Q2,-2.8 2.2,-0.6 Z" fill="#404a10"/></g>
<text transform="translate(1045.5,623.75) scale(0.885,1)" class="r">HireDate</text>
<text transform="translate(1045.5,639.15) scale(0.885,1)" class="r">Spacialization</text>
<text transform="translate(1045.5,654.55) scale(0.885,1)" class="r">YearOfExperience</text>
<text transform="translate(1045.5,669.95) scale(0.885,1)" class="r">User_Name</text>
<text transform="translate(1045.5,685.35) scale(0.885,1)" class="r">Password</text>
<text transform="translate(1045.5,700.75) scale(0.885,1)" class="r">First_Name</text>
<text transform="translate(1045.5,716.15) scale(0.885,1)" class="r">Last_Name</text>
<text transform="translate(1045.5,731.55) scale(0.885,1)" class="r">National_Id</text>
<text transform="translate(1045.5,746.95) scale(0.885,1)" class="r">Email</text>
<text transform="translate(1045.5,762.35) scale(0.885,1)" class="r">City</text>
<rect x="1158.7" y="597" width="21.5" height="172.4" fill="#f0f0f0"/>
<rect x="1159.9" y="617.6" width="17.6" height="119.7" fill="#cdcdcd"/>
<path d="M1164.6,610.5 L1168.8,605.9 L1173,610.5" fill="none" stroke="#505050" stroke-width="1.9"/>
<path d="M1164.6,755.2 L1168.8,759.8 L1173,755.2" fill="none" stroke="#505050" stroke-width="1.9"/>
<line x1="1024.6" y1="597" x2="1180.2" y2="597" stroke="#a0a0a0" stroke-width="1"/>
<text x="1027.2" y="594.7" class="h" textLength="83.8" lengthAdjust="spacingAndGlyphs">Instructor (people)</text>
<rect x="1024.6" y="583.6" width="155.6" height="185.8" fill="none" stroke="#767676" stroke-width="1.7"/>
<g opacity="0.118">
<g fill="none" stroke="#000" stroke-linecap="round" stroke-width="6.6">
<path d="M589,741.5 L589,774.6"/>
<path d="M580.04,758.23 A10.7,10.7 0 1 0 588.1,768.6"/>
<circle cx="614.3" cy="765.4" r="9.5"/>
<circle cx="702.3" cy="769.6" r="10.3"/>
</g>
<g fill="none" stroke="#000" stroke-linecap="round" stroke-width="6.8">
<path d="M640.2,763 L640.2,774 M655.1,763 L655.1,774 M666.8,763 L666.8,774 M678.1,763 L678.1,774"/>
</g>
<path d="M586,771.1 L692,771.1 L692,778.4 L586,778.4 Z" fill="#000"/>
<g fill="#000"><circle cx="610.2" cy="742.8" r="4.1"/><circle cx="619.7" cy="742.8" r="4.1"/></g>
</g>
<text x="562.8" y="803.6" class="wm" textLength="154" lengthAdjust="spacingAndGlyphs">mostaql.com</text>
</svg></body></html>
